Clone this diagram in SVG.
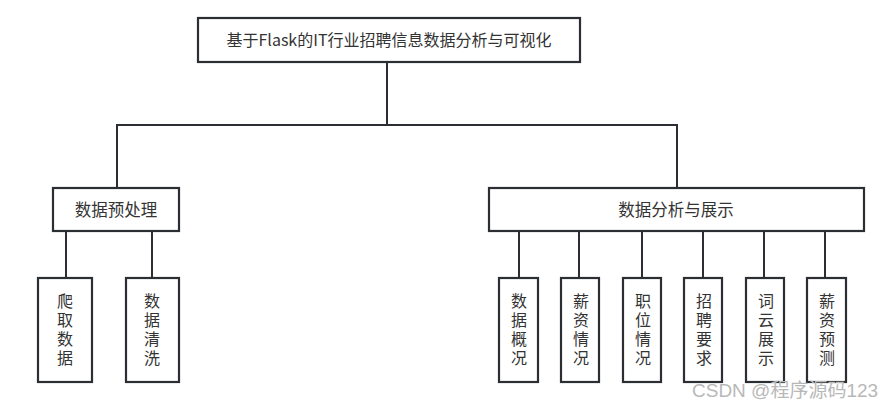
<svg xmlns="http://www.w3.org/2000/svg" width="894" height="409" viewBox="0 0 894 409">
<style>
.box{fill:#fff;stroke:#2b2f33;stroke-width:2.2}
.ln{fill:none;stroke:#2b2f33;stroke-width:2}
text{font-family:"Microsoft YaHei","Noto Sans CJK SC","Noto Sans",sans-serif;fill:#333;font-size:16px}
.c{text-anchor:middle}
.v{writing-mode:vertical-rl;text-anchor:middle;letter-spacing:3px}
.wm{font-family:"Liberation Sans","Noto Sans CJK SC",sans-serif;fill:#b8b8b8;font-size:19px}
</style>
<rect width="894" height="409" fill="#fff"/>
<g id="connectors">
<path class="ln" d="M387 62V125M116 125H678M117 125V188M677 125V188"/>
<path class="ln" d="M66 231V278M152 231V278"/>
<path class="ln" d="M519 231V278M579 231V278M642 231V278M703 231V278M764 231V278M825 231V278"/>
</g>
<g id="root"><rect class="box" x="198" y="18" width="382" height="44"/><text class="c" x="389" y="46">基于Flask的IT行业招聘信息数据分析与可视化</text></g>
<g id="pre"><rect class="box" x="53" y="188" width="126" height="43"/><text class="c" x="116" y="216" style="font-size:16.5px">数据预处理</text></g>
<g id="ana"><rect class="box" x="489" y="188" width="375" height="43"/><text class="c" x="676" y="216" style="font-size:16.5px">数据分析与展示</text></g>
<g id="n1"><rect class="box" x="38" y="278" width="54" height="104"/><text class="v" x="65" y="331">爬取数据</text></g>
<g id="n2"><rect class="box" x="126" y="278" width="53" height="104"/><text class="v" x="152" y="331">数据清洗</text></g>
<g id="n3"><rect class="box" x="499" y="278" width="39" height="104"/><text class="v" x="519" y="331">数据概况</text></g>
<g id="n4"><rect class="box" x="561" y="278" width="38" height="104"/><text class="v" x="581" y="331">薪资情况</text></g>
<g id="n5"><rect class="box" x="623" y="278" width="38" height="104"/><text class="v" x="643" y="331">职位情况</text></g>
<g id="n6"><rect class="box" x="684" y="278" width="38" height="104"/><text class="v" x="704" y="331">招聘要求</text></g>
<g id="n7"><rect class="box" x="746" y="278" width="38" height="104"/><text class="v" x="766" y="331">词云展示</text></g>
<g id="n8"><rect class="box" x="807" y="278" width="39" height="104"/><text class="v" x="827" y="331">薪资预测</text></g>
<text class="wm" x="692" y="397">CSDN @程序源码123</text>
</svg>
